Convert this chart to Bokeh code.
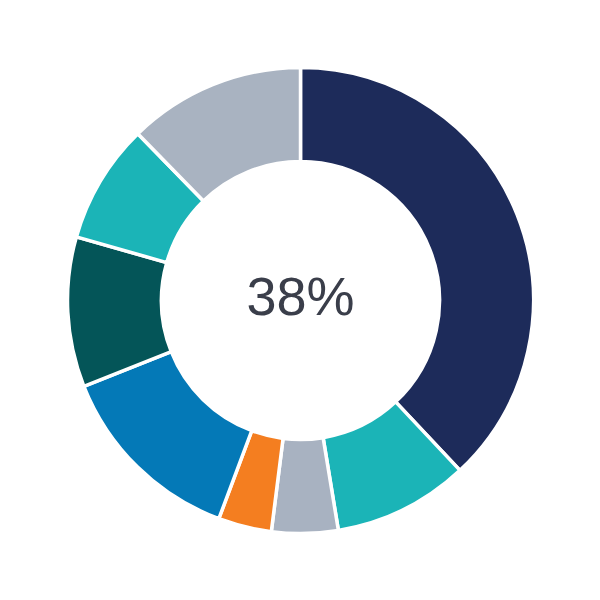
import math
from bokeh.plotting import figure
from bokeh.models import Range1d, ColumnDataSource
from bokeh.core.properties import value
from bokeh.embed import file_html
from bokeh.resources import INLINE

# Data (clockwise from 12 o'clock)
categories = ["A", "B", "C", "D", "E", "F", "G", "H"]
shares = [38.0, 9.4, 4.6, 3.7, 13.3, 10.4, 8.3, 12.3]
colors = ["#1d2b5a", "#1bb4b7", "#a8b2c1", "#f47e20", "#0479b7", "#045558", "#1bb4b7", "#a9b3c1"]
center_label = "38%"

total = sum(shares)
starts, ends = [], []
cum = 0.0
for s in shares:
    starts.append(math.pi / 2 - 2 * math.pi * cum / total)
    cum += s
    ends.append(math.pi / 2 - 2 * math.pi * cum / total)

src = ColumnDataSource(dict(cat=categories, start=starts, end=ends, color=colors))

p = figure(width=584, height=584, output_backend="svg", toolbar_location=None,
           x_range=Range1d(-300, 284), y_range=Range1d(-284, 300),
           min_border=0, outline_line_color=None)
p.axis.visible = False
p.grid.visible = False
p.background_fill_color = "white"
p.border_fill_color = "white"

p.annular_wedge(x=0, y=0, inner_radius=139, outer_radius=233,
                start_angle="start", end_angle="end", direction="clock",
                fill_color="color", line_color="white", line_width=3.5, source=src)

p.text(x=[0], y=[5], text=[center_label], text_align="center",
       text_baseline="alphabetic", text_font=value("Liberation Sans"),
       text_font_size="54px", text_color="#3a3e4a")

open("out.html", "w").write(file_html(p, INLINE))
